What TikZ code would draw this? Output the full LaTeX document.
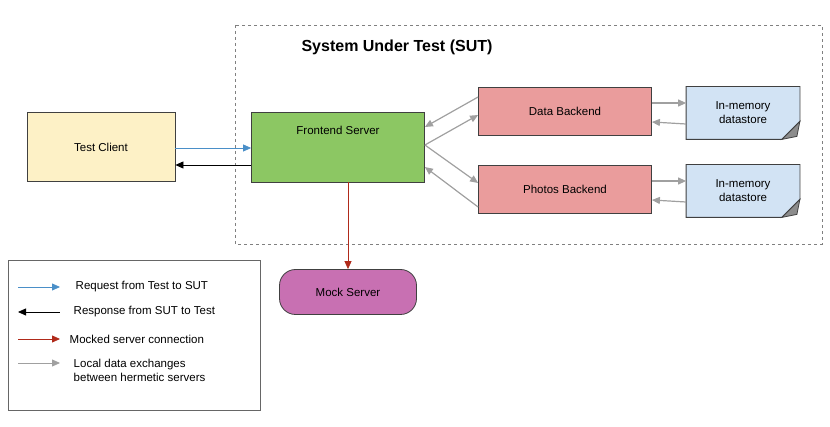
\documentclass[tikz,border=0pt]{standalone}
\usepackage{fontspec}
\setmainfont{Liberation Sans}
\usetikzlibrary{arrows.meta,positioning}
\definecolor{clientfill}{HTML}{FDF1C6}
\definecolor{frontfill}{HTML}{8CC763}
\definecolor{backfill}{HTML}{EA9C9C}
\definecolor{storefill}{HTML}{D2E3F4}
\definecolor{mockfill}{HTML}{C870B2}
\definecolor{reqblue}{HTML}{4A8FC8}
\definecolor{mockred}{HTML}{B02A1A}
\definecolor{localgray}{HTML}{A0A0A0}
\newcommand{\txt}{\fontsize{11.5}{14}\selectfont}
\tikzstyle{block} = [rectangle, draw=black!75, thick, font=\txt, align=center, inner sep=0pt]
\tikzstyle{store} = [rectangle, inner sep=0pt, minimum width=113pt, minimum height=52pt]
\tikzstyle{local} = [-{Triangle[length=8pt,width=7pt]}, localgray, very thick]

\begin{document}
\begin{tikzpicture}[x=1pt,y=-1pt,>={Triangle[length=8pt,width=7pt]},thick]
  \useasboundingbox (0,0) rectangle (830,427);
  % system under test
  \draw[dashed,black!50] (235,25) rectangle (822,244);
  \node[font=\fontsize{16}{19}\selectfont\bfseries] (title) at (397,47) {System Under Test (SUT)};

  \node[block,fill=clientfill,minimum width=148pt,minimum height=69pt] (client) at (101,147) {Test Client};
  \node[block,fill=frontfill,minimum width=173pt,minimum height=70pt] (front) at (338,147) {Frontend Server\\[20pt]};
  \node[block,fill=backfill,minimum width=173pt,minimum height=48pt] (data) at (565,111) {Data Backend};
  \node[block,fill=backfill,minimum width=173pt,minimum height=48pt] (photos) at (565,189) {Photos Backend};
  \node[store] (store1) at (743,113) {};
  \node[store] (store2) at (743,191) {};
  \node[block,fill=mockfill,rounded corners=16pt,minimum width=137pt,minimum height=45pt] (mock) at (348,292) {Mock Server};

  % folded corners of the datastores
  \foreach \s in {store1,store2} {
    \draw[thick,black!75,fill=storefill] (\s.north west) -- (\s.north east)
      -- ([yshift=18pt]\s.south east) -- ([xshift=-18pt]\s.south east) -- (\s.south west) -- cycle;
    \draw[thick,black!75,fill=black!45] ([yshift=18pt]\s.south east) -- ([xshift=-18pt]\s.south east)
      -- ([xshift=-3pt,yshift=3pt]\s.south east) -- cycle;
    \node[font=\txt,align=center] at (\s) {In-memory\\datastore};
  }

  \draw[->,reqblue] ([yshift=-1pt]client.east) -- ([yshift=-1pt]front.west);
  \draw[->,black] ([yshift=-18pt]front.west) -- ([yshift=-18pt]client.east);
  \draw[->,mockred] (front.south -| mock.north) -- (mock.north);

  \draw[local] ([yshift=2pt]front.east) -- ([yshift=-4pt]data.west);
  \draw[local] ([yshift=14pt]data.west) -- ([yshift=20pt]front.east);
  \draw[local] ([yshift=2pt]front.east) -- ([yshift=6pt]photos.west);
  \draw[local] ([yshift=-18pt]photos.west) -- ([yshift=-20pt]front.east);
  \draw[local] ([yshift=8pt]data.east) -- ([yshift=10pt]store1.west);
  \draw[local] ([yshift=-11pt]store1.west) -- ([yshift=-11pt]data.east);
  \draw[local] ([yshift=8pt]photos.east) -- ([yshift=10pt]store2.west);
  \draw[local] ([yshift=-11pt]store2.west) -- ([yshift=-11pt]photos.east);

  % legend
  \draw[black!60] (8,260) rectangle (260,410);
  \coordinate (l1) at (18,287);
  \coordinate (l2) at (18,312);
  \coordinate (l3) at (18,339);
  \coordinate (l4) at (18,363);
  \draw[->,reqblue] (l1) -- ++(42,0) node[right=12pt,black,font=\txt] (t1) {Request from Test to SUT};
  \draw[<-,black] (l2) -- ++(42,0) node[right=10pt,black,font=\txt] (t2) {Response from SUT to Test};
  \draw[->,mockred] (l3) -- ++(42,0) node[right=6pt,black,font=\txt] (t3) {Mocked server connection};
  \draw[->,localgray] (l4) -- ++(42,0) node[right=10pt,black,font=\txt,anchor=north west,align=left,yshift=8pt] (t4) {Local data exchanges\\between hermetic servers};
\end{tikzpicture}
\end{document}
